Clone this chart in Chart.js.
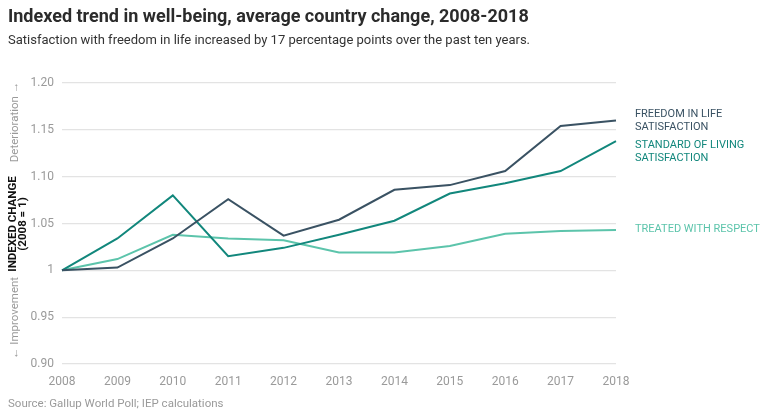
<!DOCTYPE html>
<html>
<head>
<meta charset="utf-8">
<script src="https://cdn.jsdelivr.net/npm/chart.js@4"></script>
<style>
  html, body { margin: 0; padding: 0; background: #fff; }
  #wrap { width: 768px; height: 417px; position: relative; }
</style>
</head>
<body>
<div id="wrap"><canvas id="chart"></canvas></div>
<script>
const years = ['2008','2009','2010','2011','2012','2013','2014','2015','2016','2017','2018']
const freedom = [1.000, 1.003, 1.034, 1.076, 1.037, 1.054, 1.086, 1.091, 1.106, 1.154, 1.160]
const standard = [1.000, 1.034, 1.080, 1.015, 1.024, 1.038, 1.053, 1.082, 1.093, 1.106, 1.138]
const respect = [1.000, 1.012, 1.038, 1.034, 1.032, 1.019, 1.019, 1.026, 1.039, 1.042, 1.043]
const seriesNames = [['FREEDOM IN LIFE','SATISFACTION'], ['STANDARD OF LIVING','SATISFACTION'], ['TREATED WITH RESPECT']]
const colors = ['#3a5263', '#12877c', '#5cc4ab']
const labelOffsets = [-6, 4, -1]   // nudges so end labels don't collide

const FONT = 'Roboto, "Noto Sans", sans-serif'
const GREY = '#9a9a9a'

// titles, axis side notes, source and line end labels
const decor = {
  id: 'decor',
  afterDraw(chart){
    const c = chart.ctx, area = chart.chartArea
    c.save()
    c.textBaseline = 'middle'
    c.fillStyle = '#2b2b2b'
    c.font = 'bold 18px ' + FONT
    c.fillText('Indexed trend in well-being, average country change, 2008-2018', 8, 17)
    c.font = '13px ' + FONT
    c.fillStyle = '#333'
    c.fillText('Satisfaction with freedom in life increased by 17 percentage points over the past ten years.', 8, 41)
    c.fillStyle = GREY
    c.font = '11.5px ' + FONT
    c.fillText('Source: Gallup World Poll; IEP calculations', 8, 404)

    // rotated axis notes
    const rot = (txt, x, cy, font, color) => {
      c.save(); c.translate(x, cy); c.rotate(-Math.PI/2)
      c.textAlign = 'center'; c.font = font; c.fillStyle = color
      c.fillText(txt, 0, 0); c.restore()
    }
    rot('INDEXED CHANGE', 13, 224, 'bold 11.5px ' + FONT, '#111')
    rot('(2008 = 1)', 23, 224, 'bold 11.5px ' + FONT, '#111')
    rot('Deterioration \u2192', 15, 122, '11.5px ' + FONT, GREY)
    rot('\u2190 Improvement', 15, 318, '11.5px ' + FONT, GREY)

    // end labels
    c.textAlign = 'left'
    c.font = '11px ' + FONT
    chart.data.datasets.forEach((ds, i) => {
      const meta = chart.getDatasetMeta(i)
      const last = meta.data[meta.data.length - 1]
      const lines = seriesNames[i]
      c.fillStyle = ds.borderColor
      let yy = last.y + labelOffsets[i]
      lines.forEach((ln, k) => c.fillText(ln, area.right + 19, yy + k * 13))
    })
    c.restore()
  }
}

const mk = (data, i) => ({
  data, borderColor: colors[i], borderWidth: 2, pointRadius: 0, tension: 0, fill: false
})

new Chart(document.getElementById('chart'), {
  type: 'line',
  data: { labels: years, datasets: [mk(freedom, 0), mk(standard, 1), mk(respect, 2)] },
  options: {
    responsive: true, maintainAspectRatio: false, animation: false,
    layout: { padding: { top: 83, right: 152, left: 0, bottom: 0 } },
    plugins: { legend: { display: false }, tooltip: { enabled: false } },
    scales: {
      x: {
        offset: false,
        grid: { display: false, drawTicks: false },
        border: { display: false },
        ticks: { color: GREY, font: { family: FONT, size: 12 }, padding: 11, maxRotation: 0, autoSkip: false },
        afterFit(s){ s.height = 53 }
      },
      y: {
        min: 0.9, max: 1.2,
        grid: { color: '#e3e3e3', lineWidth: 1.3, drawTicks: false },
        border: { display: false },
        ticks: {
          stepSize: 0.05, color: GREY, font: { family: FONT, size: 12 }, padding: 8,
          callback: v => Math.abs(v - 1) < 1e-6 ? '1' : v.toFixed(2)
        },
        afterFit(s){ s.width = 62 }
      }
    }
  },
  plugins: [decor]
})
</script>
</body>
</html>
